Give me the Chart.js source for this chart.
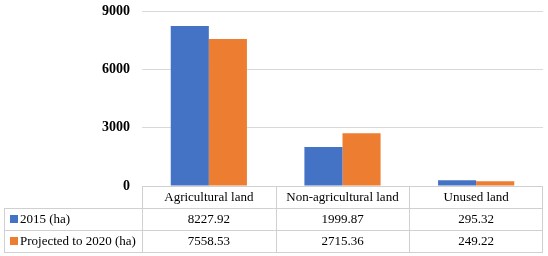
<!DOCTYPE html>
<html lang="en">
  <head>
    <meta charset="utf-8" />
    <title>Land use 2015 vs 2020</title>
    <style>
      * {
        margin: 0;
        padding: 0;
      }
      body {
        background: white;
      }
      .chartBox {
        width: 548px;
        height: 256px;
      }
    </style>
  </head>
  <body>
    <div class="chartBox">
      <canvas id="myChart"></canvas>
    </div>

    <script src="https://cdn.jsdelivr.net/npm/chart.js@4.1.1/dist/chart.umd.min.js"></script>

    <script>
      const categories = ["Agricultural land", "Non-agricultural land", "Unused land"];
      const seriesNames = ["2015 (ha)", "Projected to 2020 (ha)"];
      const values2015 = [8227.92, 1999.87, 295.32];
      const values2020 = [7558.53, 2715.36, 249.22];
      const yTicks = [0, 3000, 6000, 9000];

      const colors = ["#4472C4", "#ED7D31"];
      const serif = "'Liberation Serif', 'Times New Roman', serif";

      // data table under the bars, columns follow the x scale
      const dataTable = {
        id: "dataTable",
        afterDraw(chart) {
          const {
            ctx,
            chartArea: { left, right, bottom },
            scales: { x },
          } = chart;
          const rowH = 22;
          const tableLeft = 4;
          const half = (x.getPixelForValue(1) - x.getPixelForValue(0)) / 2;
          const rows = [values2015, values2020];

          ctx.save();
          ctx.strokeStyle = "#d0d0d0";
          ctx.lineWidth = 1;
          ctx.beginPath();
          // horizontal lines
          ctx.moveTo(left, bottom + 0.5);
          ctx.lineTo(right, bottom + 0.5);
          for (let r = 1; r <= 3; r++) {
            const yy = Math.round(bottom + r * rowH) + 0.5;
            ctx.moveTo(tableLeft, yy);
            ctx.lineTo(right, yy);
          }
          // vertical lines
          ctx.moveTo(tableLeft + 0.5, bottom + rowH);
          ctx.lineTo(tableLeft + 0.5, bottom + 3 * rowH);
          categories.forEach((c, i) => {
            const xl = Math.round(x.getPixelForValue(i) - half) + 0.5;
            ctx.moveTo(xl, bottom);
            ctx.lineTo(xl, bottom + 3 * rowH);
          });
          ctx.moveTo(right - 0.5, bottom);
          ctx.lineTo(right - 0.5, bottom + 3 * rowH);
          ctx.stroke();

          ctx.fillStyle = "#000";
          ctx.font = "13px " + serif;
          ctx.textAlign = "center";
          ctx.textBaseline = "middle";
          categories.forEach((c, i) => {
            const cx = x.getPixelForValue(i);
            ctx.fillText(c, cx, bottom + rowH / 2 + 1);
            rows.forEach((vals, r) => {
              ctx.fillText(vals[i].toFixed(2), cx, bottom + rowH * (r + 1.5) + 1);
            });
          });

          ctx.textAlign = "left";
          seriesNames.forEach((name, r) => {
            const cy = bottom + rowH * (r + 1.5);
            ctx.fillStyle = colors[r];
            ctx.fillRect(tableLeft + 6, cy - 4, 8, 8);
            ctx.fillStyle = "#000";
            ctx.fillText(name, tableLeft + 16, cy + 1);
          });
          ctx.restore();
        },
      };

      const config = {
        type: "bar",
        data: {
          labels: categories,
          datasets: [
            {
              label: seriesNames[0],
              data: values2015,
              backgroundColor: colors[0],
              categoryPercentage: 0.57,
              barPercentage: 1.0,
            },
            {
              label: seriesNames[1],
              data: values2020,
              backgroundColor: colors[1],
              categoryPercentage: 0.57,
              barPercentage: 1.0,
            },
          ],
        },
        options: {
          responsive: true,
          maintainAspectRatio: false,
          animation: false,
          layout: {
            padding: { top: 11, right: 5, bottom: 70, left: 0 },
          },
          plugins: {
            legend: { display: false },
            tooltip: { enabled: false },
          },
          scales: {
            x: {
              display: false,
            },
            y: {
              min: 0,
              max: 9000,
              afterFit(scale) {
                scale.width = 142;
                scale.paddingTop = 0;
                scale.paddingBottom = 0;
              },
              afterBuildTicks(scale) {
                scale.ticks = yTicks.map((v) => ({ value: v }));
              },
              border: { display: false },
              grid: {
                color: "#d9d9d9",
                lineWidth: 1,
                drawTicks: false,
              },
              ticks: {
                padding: 12,
                color: "#000",
                font: { family: serif, size: 14, weight: "bold" },
                callback: (v) => String(v),
              },
            },
          },
        },
        plugins: [dataTable],
      };

      const myChart = new Chart(document.getElementById("myChart"), config);
    </script>
  </body>
</html>
